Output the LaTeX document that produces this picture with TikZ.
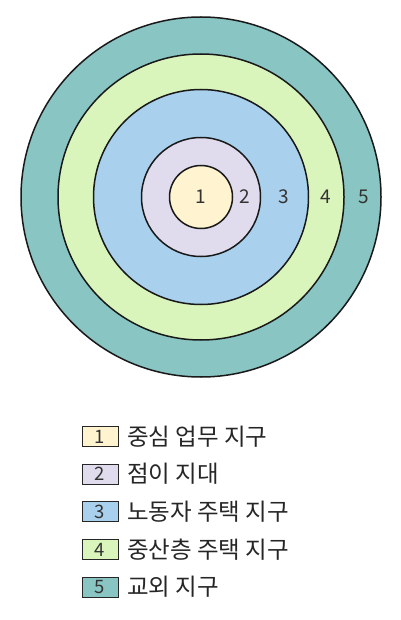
\documentclass[tikz,border=0pt]{standalone}
\usepackage{fontspec}
\setmainfont{Noto Sans CJK KR}
\definecolor{zoneA}{HTML}{FFF4CF}
\definecolor{zoneB}{HTML}{E0DCEE}
\definecolor{zoneC}{HTML}{A9D0EC}
\definecolor{zoneD}{HTML}{DAF5BC}
\definecolor{zoneE}{HTML}{89C5C3}
\tikzset{
  keybox/.style={draw=black!85,line width=.9pt,minimum width=36pt,minimum height=20pt,
    inner sep=0pt,font=\fontsize{18.5}{18.5}\selectfont,text=black!80},
  keytext/.style={anchor=west,inner sep=0pt,font=\fontsize{23.5}{23.5}\selectfont,text=black!85}
}
\begin{document}
\begin{tikzpicture}[x=1pt,y=-1pt,draw=black!90]
      \useasboundingbox[fill=white](0,0)rectangle(400,620);
      \begin{scope}[shift={(201,197)}]
        \foreach \r/\c in {180/zoneE,143/zoneD,107.5/zoneC,59.5/zoneB,31.5/zoneA}{
          \filldraw[fill=\c,line width=1.5pt](0,0)circle(\r pt);
        }
        \foreach \n/\x in {1/0,2/44,3/83,4/125,5/163}{
          \node[font=\fontsize{19}{19}\selectfont,text=black!80](ring\n) at (\x,0){\n};
        }
      \end{scope}
      \foreach \n/\c/\t in {1/zoneA/중심 업무 지구,2/zoneB/점이 지대,3/zoneC/노동자 주택 지구,
          4/zoneD/중산층 주택 지구,5/zoneE/교외 지구}{
        \node[keybox,fill=\c](key\n) at (100,{399+37.6*\n}){\n};
        \node[keytext](lab\n) at (127,{399+37.6*\n}){\t};
      }
    \end{tikzpicture}
\end{document}
